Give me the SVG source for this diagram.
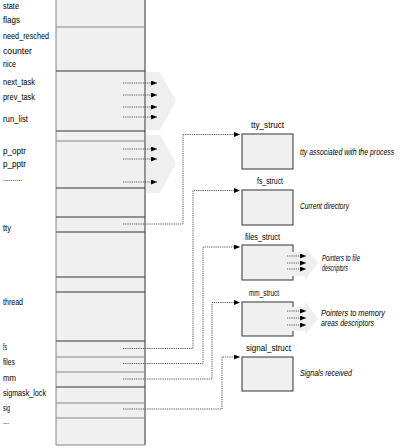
<svg xmlns="http://www.w3.org/2000/svg" width="403" height="448" viewBox="0 0 403 448">
<defs>
<marker id="ah" markerWidth="6" markerHeight="5" refX="6" refY="2.5" orient="auto" markerUnits="userSpaceOnUse">
<path d="M0,0 L6,2.5 L0,5 Z" fill="#000"/>
</marker>
<style>
.lbl{font-family:"Liberation Sans",Arial,sans-serif;font-size:9.5px;fill:#000}
.it{font-family:"Liberation Sans",Arial,sans-serif;font-size:9.5px;font-style:italic;fill:#000}
.it2{font-family:"Liberation Sans",Arial,sans-serif;font-size:8.5px;font-style:italic;fill:#000}
.box{fill:#f0f0f0;stroke:#333;stroke-width:1}
.dk{stroke:#333;stroke-width:1}
.gr{stroke:#888;stroke-width:1}
.sa{fill:none;stroke:#333;stroke-width:0.8;stroke-dasharray:1.2 1;marker-end:url(#ah)}
.con{fill:none;stroke:#555;stroke-width:1;stroke-dasharray:1.2 1;marker-end:url(#ah)}
.chev{fill:#efefef}
</style>
</defs>
<rect width="403" height="448" fill="#fff"/>
<g id="task_struct">
<rect x="56" y="-1" width="89" height="446" fill="#f0f0f0"/>
<line x1="145" y1="-1" x2="145" y2="445" class="dk"/>
<line x1="56" y1="-1" x2="56" y2="445" class="gr"/>
<line x1="56" y1="445" x2="145" y2="445" class="gr"/>
<line x1="56" y1="27" x2="145" y2="27" class="gr"/>
<line x1="56" y1="71" x2="145" y2="71" class="dk"/>
<line x1="56" y1="131" x2="145" y2="131" class="dk"/>
<line x1="56" y1="141" x2="145" y2="141" class="gr"/>
<line x1="56" y1="188" x2="145" y2="188" class="dk"/>
<line x1="56" y1="217" x2="145" y2="217" class="dk"/>
<line x1="56" y1="232" x2="145" y2="232" class="dk"/>
<line x1="56" y1="277" x2="145" y2="277" class="dk"/>
<line x1="56" y1="292" x2="145" y2="292" class="dk"/>
<line x1="56" y1="341" x2="145" y2="341" class="dk"/>
<line x1="56" y1="357" x2="145" y2="357" class="gr"/>
<line x1="56" y1="372" x2="145" y2="372" class="gr"/>
<line x1="56" y1="387" x2="145" y2="387" class="dk"/>
<line x1="56" y1="403" x2="145" y2="403" class="gr"/>
<line x1="56" y1="418" x2="145" y2="418" class="gr"/>
<text class="lbl" x="3" y="9" textLength="16" lengthAdjust="spacingAndGlyphs">state</text>
<text class="lbl" x="3" y="23" textLength="17" lengthAdjust="spacingAndGlyphs">flags</text>
<text class="lbl" x="3" y="39" textLength="46" lengthAdjust="spacingAndGlyphs">need_resched</text>
<text class="lbl" x="3" y="54" textLength="29" lengthAdjust="spacingAndGlyphs">counter</text>
<text class="lbl" x="3" y="67" textLength="13" lengthAdjust="spacingAndGlyphs">nice</text>
<text class="lbl" x="3" y="85" textLength="32" lengthAdjust="spacingAndGlyphs">next_task</text>
<text class="lbl" x="3" y="100" textLength="32" lengthAdjust="spacingAndGlyphs">prev_task</text>
<text class="lbl" x="3" y="122" textLength="25" lengthAdjust="spacingAndGlyphs">run_list</text>
<text class="lbl" x="3" y="154" textLength="23" lengthAdjust="spacingAndGlyphs">p_optr</text>
<text class="lbl" x="3" y="167" textLength="23" lengthAdjust="spacingAndGlyphs">p_pptr</text>
<text class="lbl" x="3" y="181" textLength="19" lengthAdjust="spacingAndGlyphs">..........</text>
<text class="lbl" x="3" y="231" textLength="8" lengthAdjust="spacingAndGlyphs">tty</text>
<text class="lbl" x="3" y="305" textLength="20" lengthAdjust="spacingAndGlyphs">thread</text>
<text class="lbl" x="3" y="350" textLength="4" lengthAdjust="spacingAndGlyphs">fs</text>
<text class="lbl" x="3" y="365" textLength="12" lengthAdjust="spacingAndGlyphs">files</text>
<text class="lbl" x="3" y="381" textLength="13" lengthAdjust="spacingAndGlyphs">mm</text>
<text class="lbl" x="3" y="396" textLength="43" lengthAdjust="spacingAndGlyphs">sigmask_lock</text>
<text class="lbl" x="3" y="411" textLength="7" lengthAdjust="spacingAndGlyphs">sig</text>
<text class="lbl" x="3" y="424" textLength="6" lengthAdjust="spacingAndGlyphs">....</text>
</g>
<g id="list-arrows">
<polygon class="chev" points="146,72 160,72 176,101 160,130 146,130"/>
<polygon class="chev" points="146,135 160,135 176,163 160,193 146,193"/>
<line x1="123" y1="83" x2="157" y2="83" class="sa"/>
<line x1="123" y1="95" x2="157" y2="95" class="sa"/>
<line x1="123" y1="107" x2="157" y2="107" class="sa"/>
<line x1="123" y1="117" x2="157" y2="117" class="sa"/>
<line x1="123" y1="149" x2="157" y2="149" class="sa"/>
<line x1="123" y1="159" x2="157" y2="159" class="sa"/>
<line x1="123" y1="182" x2="157" y2="182" class="sa"/>
</g>
<g id="tty_struct">
<text class="lbl" x="251" y="128" textLength="33" lengthAdjust="spacingAndGlyphs">tty_struct</text>
<rect class="box" x="242" y="134" width="51" height="35"/>
<text class="it" transform="translate(300,155) scale(0.73,1)">tty associated with the process</text>
</g>
<g id="fs_struct">
<text class="lbl" x="257" y="184" textLength="26" lengthAdjust="spacingAndGlyphs">fs_struct</text>
<rect class="box" x="242" y="190" width="51" height="35"/>
<text class="it" x="300" y="209" textLength="49" lengthAdjust="spacingAndGlyphs">Current directory</text>
</g>
<g id="files_struct">
<text class="lbl" x="245" y="240" textLength="35" lengthAdjust="spacingAndGlyphs">files_struct</text>
<rect class="box" x="242" y="245" width="51" height="35"/>
<polygon class="chev" points="292,252 305,252 305,247 318,263 305,280 305,276 292,276"/>
<line x1="287" y1="256" x2="306" y2="256" class="sa"/>
<line x1="287" y1="263" x2="306" y2="263" class="sa"/>
<line x1="287" y1="269" x2="306" y2="269" class="sa"/>
<text class="it2" x="322" y="261" textLength="38" lengthAdjust="spacingAndGlyphs">Pointers to file</text>
<text class="it2" x="322" y="271" textLength="26" lengthAdjust="spacingAndGlyphs">descriptors</text>
</g>
<g id="mm_struct">
<text class="lbl" x="249" y="296" textLength="30" lengthAdjust="spacingAndGlyphs">mm_struct</text>
<rect class="box" x="242" y="302" width="51" height="34"/>
<polygon class="chev" points="292,307 305,307 305,302 318,318 305,335 305,331 292,331"/>
<line x1="287" y1="311" x2="306" y2="311" class="sa"/>
<line x1="287" y1="318" x2="306" y2="318" class="sa"/>
<line x1="287" y1="325" x2="306" y2="325" class="sa"/>
<text class="it2" x="321" y="316" textLength="64" lengthAdjust="spacingAndGlyphs">Pointers to memory</text>
<text class="it2" x="321" y="326" textLength="53" lengthAdjust="spacingAndGlyphs">areas descriptors</text>
</g>
<g id="signal_struct">
<text class="lbl" x="246" y="351" textLength="45" lengthAdjust="spacingAndGlyphs">signal_struct</text>
<rect class="box" x="242" y="357" width="51" height="34"/>
<text class="it" x="300" y="376" textLength="52" lengthAdjust="spacingAndGlyphs">Signals received</text>
</g>
<g id="connectors">
<path class="con" d="M123,224 H183 V134.5 H240"/>
<path class="con" d="M123,348.5 H193 V190.5 H240"/>
<path class="con" d="M123,363.5 H203 V247 H240"/>
<path class="con" d="M123,379 H212 V302.5 H240"/>
<path class="con" d="M123,409 H222 V357 H240"/>
</g>
</svg>
